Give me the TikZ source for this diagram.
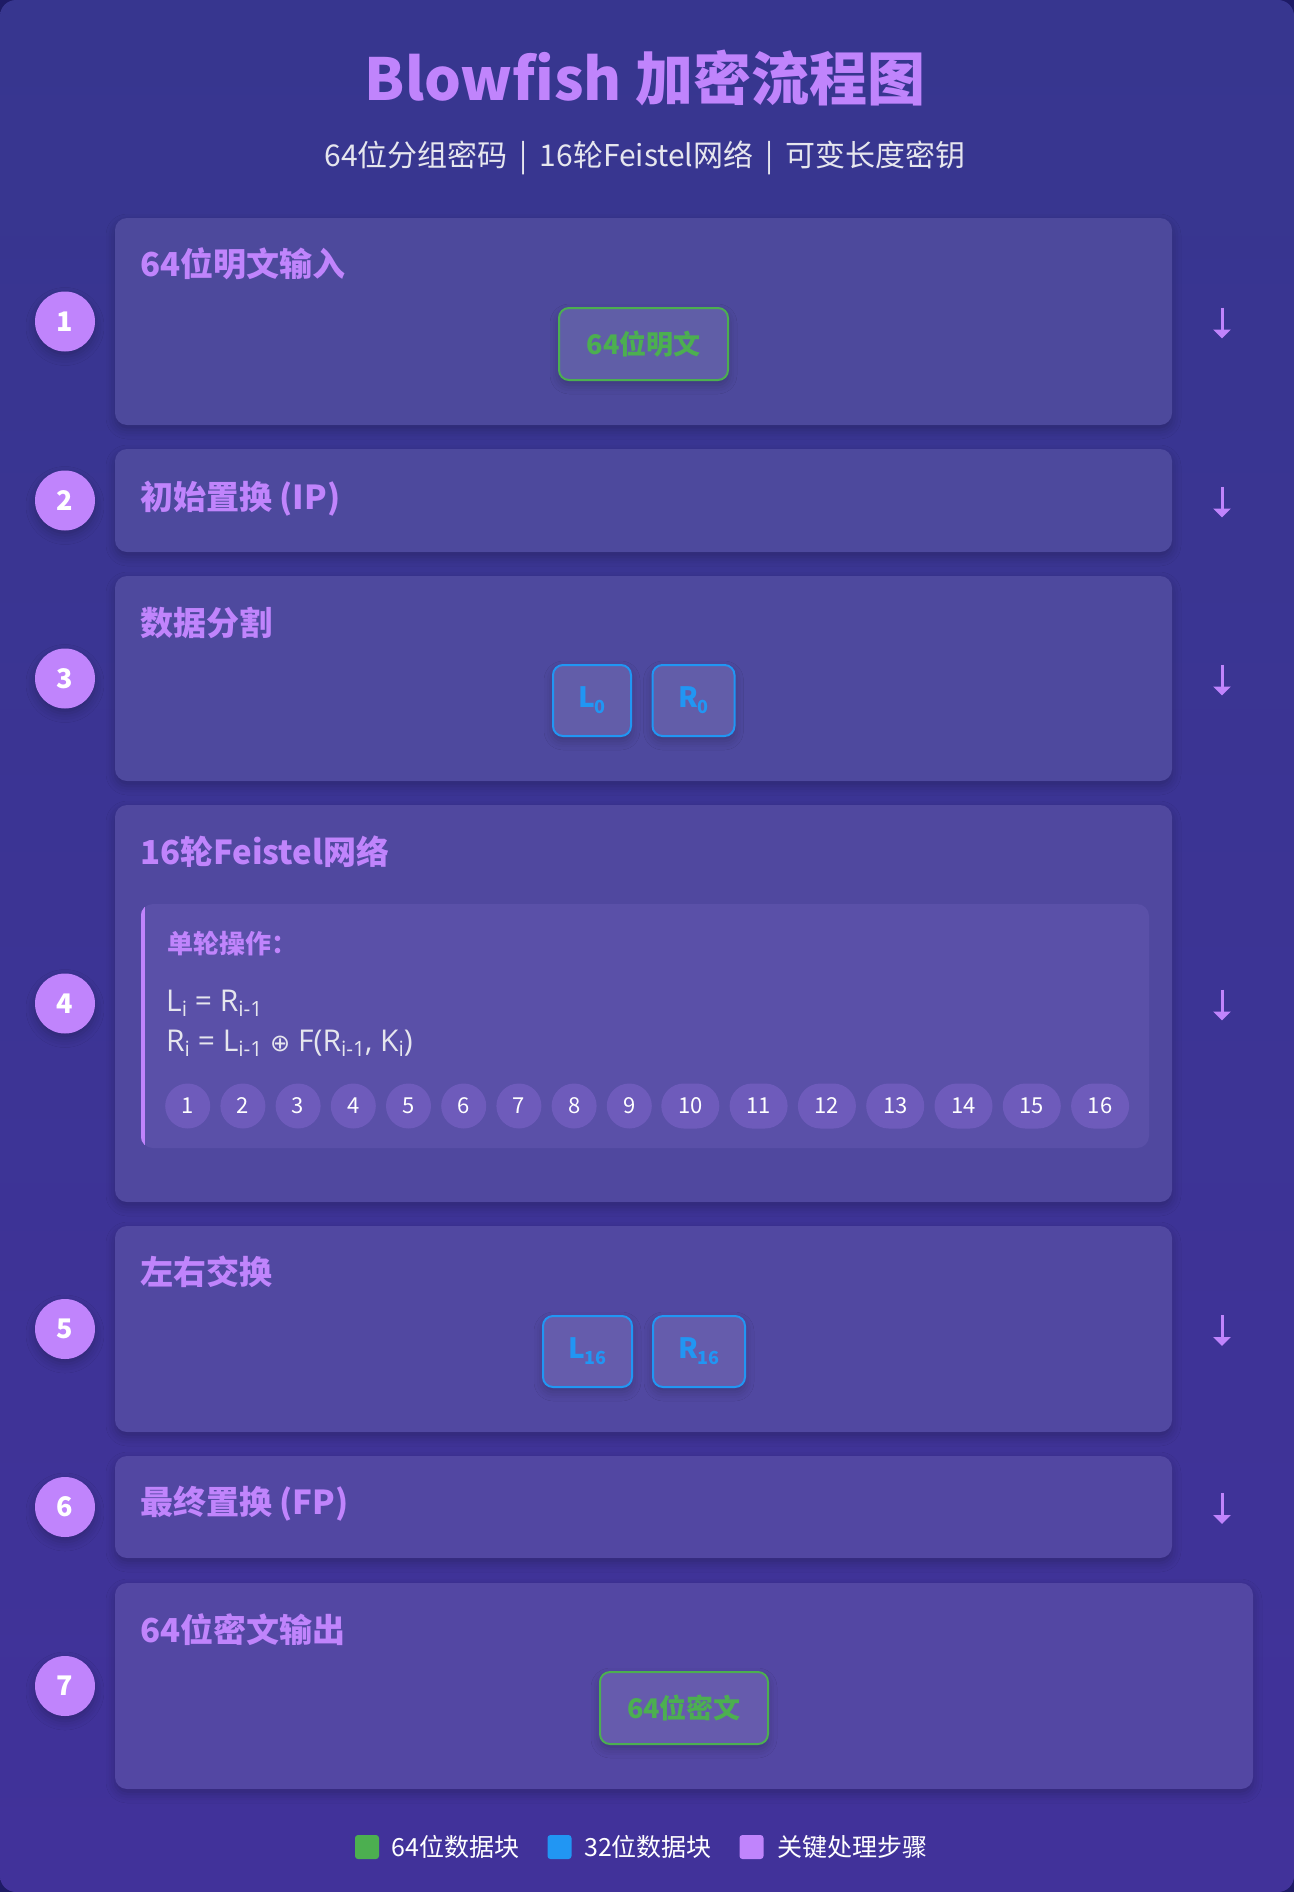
\documentclass[tikz,border=0pt]{standalone}
\usepackage{fontspec}
\setmainfont{Noto Sans CJK SC}
\newfontfamily\symfont{DejaVu Sans}
\newfontfamily\formfont{Open Sans}
\usetikzlibrary{shadows.blur,arrows.meta}
\definecolor{bgtop}{HTML}{37368F}
\definecolor{bgbot}{HTML}{41329A}
\definecolor{outerc}{HTML}{1E1B66}
\definecolor{accent}{HTML}{C084FC}
\definecolor{green64}{HTML}{4CAF50}
\definecolor{blue32}{HTML}{2196F3}
\definecolor{lightgray}{HTML}{E6E6EE}
\definecolor{innerfill}{HTML}{5A50A8}
\definecolor{pillfill}{HTML}{6E5BBB}
\newcommand{\fsz}[1]{\fontsize{#1pt}{#1pt}\selectfont}
\newcommand{\sbs}[1]{\raisebox{-5pt}{\fsz{21}#1}}
\newcommand{\bsub}[1]{\raisebox{-6pt}{\fsz{18}#1}}
\newcommand{\sepbar}{\hspace{12pt}|\hspace{12pt}}
\tikzset{
  softshadow/.style={blur shadow={shadow xshift=0pt,shadow yshift=-5pt,shadow blur radius=9pt,shadow opacity=22}},
  card/.style={rectangle, rounded corners=12pt, inner sep=0pt, fill=bgbot!#1!bgtop!90!white, softshadow},
  cardtitle/.style={anchor=west, inner sep=0pt, text=accent, font=\bfseries\fsz{33}},
  stepc/.style={circle, fill=accent, minimum size=60pt, inner sep=0pt, text=white, font=\bfseries\fsz{27}, softshadow},
  databox/.style={rectangle, rounded corners=10pt, line width=2pt, inner sep=0pt, minimum height=71pt, fill=bgbot!#1!bgtop!80!white, softshadow},
  greenbox/.style={databox=#1, draw=green64, text=green64, font=\bfseries\fsz{27}},
  bluebox/.style={databox=#1, draw=blue32, text=blue32, font=\bfseries\fsz{28}},
  downarr/.style={draw=accent, line width=3pt, -{Triangle[width=17pt,length=9pt]}},
  pill/.style={rectangle, rounded corners=22.5pt, minimum height=45pt, inner sep=0pt, fill=pillfill, text=white, font=\fsz{22}},
  legsq/.style={rectangle, rounded corners=3pt, minimum size=24pt, inner sep=0pt},
  legtx/.style={anchor=west, inner sep=0pt, text=white, font=\fsz{25}},
  formula/.style={anchor=base west, inner sep=0pt, text=lightgray, font=\formfont\fsz{30}}
}
\begin{document}
\begin{tikzpicture}[x=1pt,y=-1pt]
\useasboundingbox (0,0) rectangle (1294,1892);
\fill[outerc] (0,0) rectangle (1294,1892);
\shade[top color=bgtop, bottom color=bgbot, rounded corners=16pt] (0,0) rectangle (1294,1892);

% title
\node[text=accent, font=\bfseries\fsz{58}, inner sep=0pt] (title) at (645,78) {Blowfish 加密流程图};
\node[text=lightgray, font=\fsz{30}, inner sep=0pt] (subtitle) at (645,158) {64位分组密码\sepbar{}16轮Feistel网络\sepbar{}可变长度密钥};

% cards
\node[card=17, minimum width=1057pt, minimum height=207pt] (c1) at (643.5,321.5) {};
\node[card=26, minimum width=1057pt, minimum height=103pt] (c2) at (643.5,500.5) {};
\node[card=36, minimum width=1057pt, minimum height=205pt] (c3) at (643.5,678.5) {};
\node[card=53, minimum width=1057pt, minimum height=397pt] (c4) at (643.5,1003.5) {};
\node[card=70, minimum width=1057pt, minimum height=206pt] (c5) at (643.5,1329) {};
\node[card=80, minimum width=1057pt, minimum height=102pt] (c6) at (643.5,1507) {};
\node[card=89, minimum width=1138pt, minimum height=206pt] (c7) at (684,1686) {};

% step circles
\node[stepc] (s1) at (65,321.5) {1};
\node[stepc] (s2) at (65,500.5) {2};
\node[stepc] (s3) at (65,678.5) {3};
\node[stepc] (s4) at (65,1003.5) {4};
\node[stepc] (s5) at (65,1329) {5};
\node[stepc] (s6) at (65,1507) {6};
\node[stepc] (s7) at (65,1686) {7};

% arrows
\foreach \n/\y in {1/321.5,2/500.5,3/678.5,4/1003.5,5/1329,6/1507}{
  \coordinate (a\n s) at (1222,\y-14);
  \coordinate (a\n e) at (1222,\y+17);
  \draw[downarr] (a\n s) -- (a\n e);
}

% card titles
\node[cardtitle] (t1) at (140,264) {64位明文输入};
\node[cardtitle] (t2) at (140,499) {初始置换 (IP)};
\node[cardtitle] (t3) at (140,623) {数据分割};
\node[cardtitle] (t4) at (140,852) {16轮Feistel网络};
\node[cardtitle] (t5) at (140,1272) {左右交换};
\node[cardtitle] (t6) at (140,1504) {最终置换 (FP)};
\node[cardtitle] (t7) at (140,1630) {64位密文输出};

% data boxes
\node[greenbox=17, minimum width=169pt, minimum height=72pt] (g1) at (643.5,344) {64位明文};
\node[bluebox=36, minimum width=78pt] (l0) at (592,700.5) {L\bsub{0}};
\node[bluebox=36, minimum width=82pt] (r0) at (693.5,700.5) {R\bsub{0}};
\node[bluebox=70, minimum width=89pt] (l16) at (587.5,1351.5) {L\bsub{16}};
\node[bluebox=70, minimum width=92pt] (r16) at (699,1351.5) {R\bsub{16}};
\node[greenbox=89, minimum width=168pt, minimum height=72pt] (g7) at (684,1708) {64位密文};

% feistel box
\node[rectangle, rounded corners=12pt, fill=innerfill, minimum width=1008pt, minimum height=244pt, inner sep=0pt] (fb) at (645,1026) {};
\begin{scope}
  \clip[rounded corners=12pt] (fb.north west) rectangle (fb.south east);
  \fill[accent] (fb.north west) rectangle ([xshift=4pt]fb.south west);
\end{scope}
\node[anchor=west, inner sep=0pt, text=accent, font=\bfseries\fsz{26}] (op) at (167,944) {单轮操作：};
\node[formula] (f1) at (166,1011) {L\sbs{i} = R\sbs{i-1}};
\node[formula] (f2) at (166,1051) {R\sbs{i} = L\sbs{i-1} {\symfont\fsz{24}⊕} F(R\sbs{i-1}, K\sbs{i})};

% round pills
\foreach \i in {1,...,9}{
  \node[pill, minimum width=45pt] (p\i) at ({187.7+55.2*(\i-1)},1106) {\i};
}
\foreach \i in {10,...,16}{
  \node[pill, minimum width=58pt] (p\i) at ({690.3+68.3*(\i-10)},1106) {\i};
}

% legend
\node[legsq, fill=green64] (lg1) at (367,1847) {};
\node[legtx] (lt1) at (391.5,1847) {64位数据块};
\node[legsq, fill=blue32] (lg2) at (559.5,1847) {};
\node[legtx] (lt2) at (584,1847) {32位数据块};
\node[legsq, fill=accent] (lg3) at (751.5,1847) {};
\node[legtx] (lt3) at (777,1847) {关键处理步骤};
\end{tikzpicture}
\end{document}
